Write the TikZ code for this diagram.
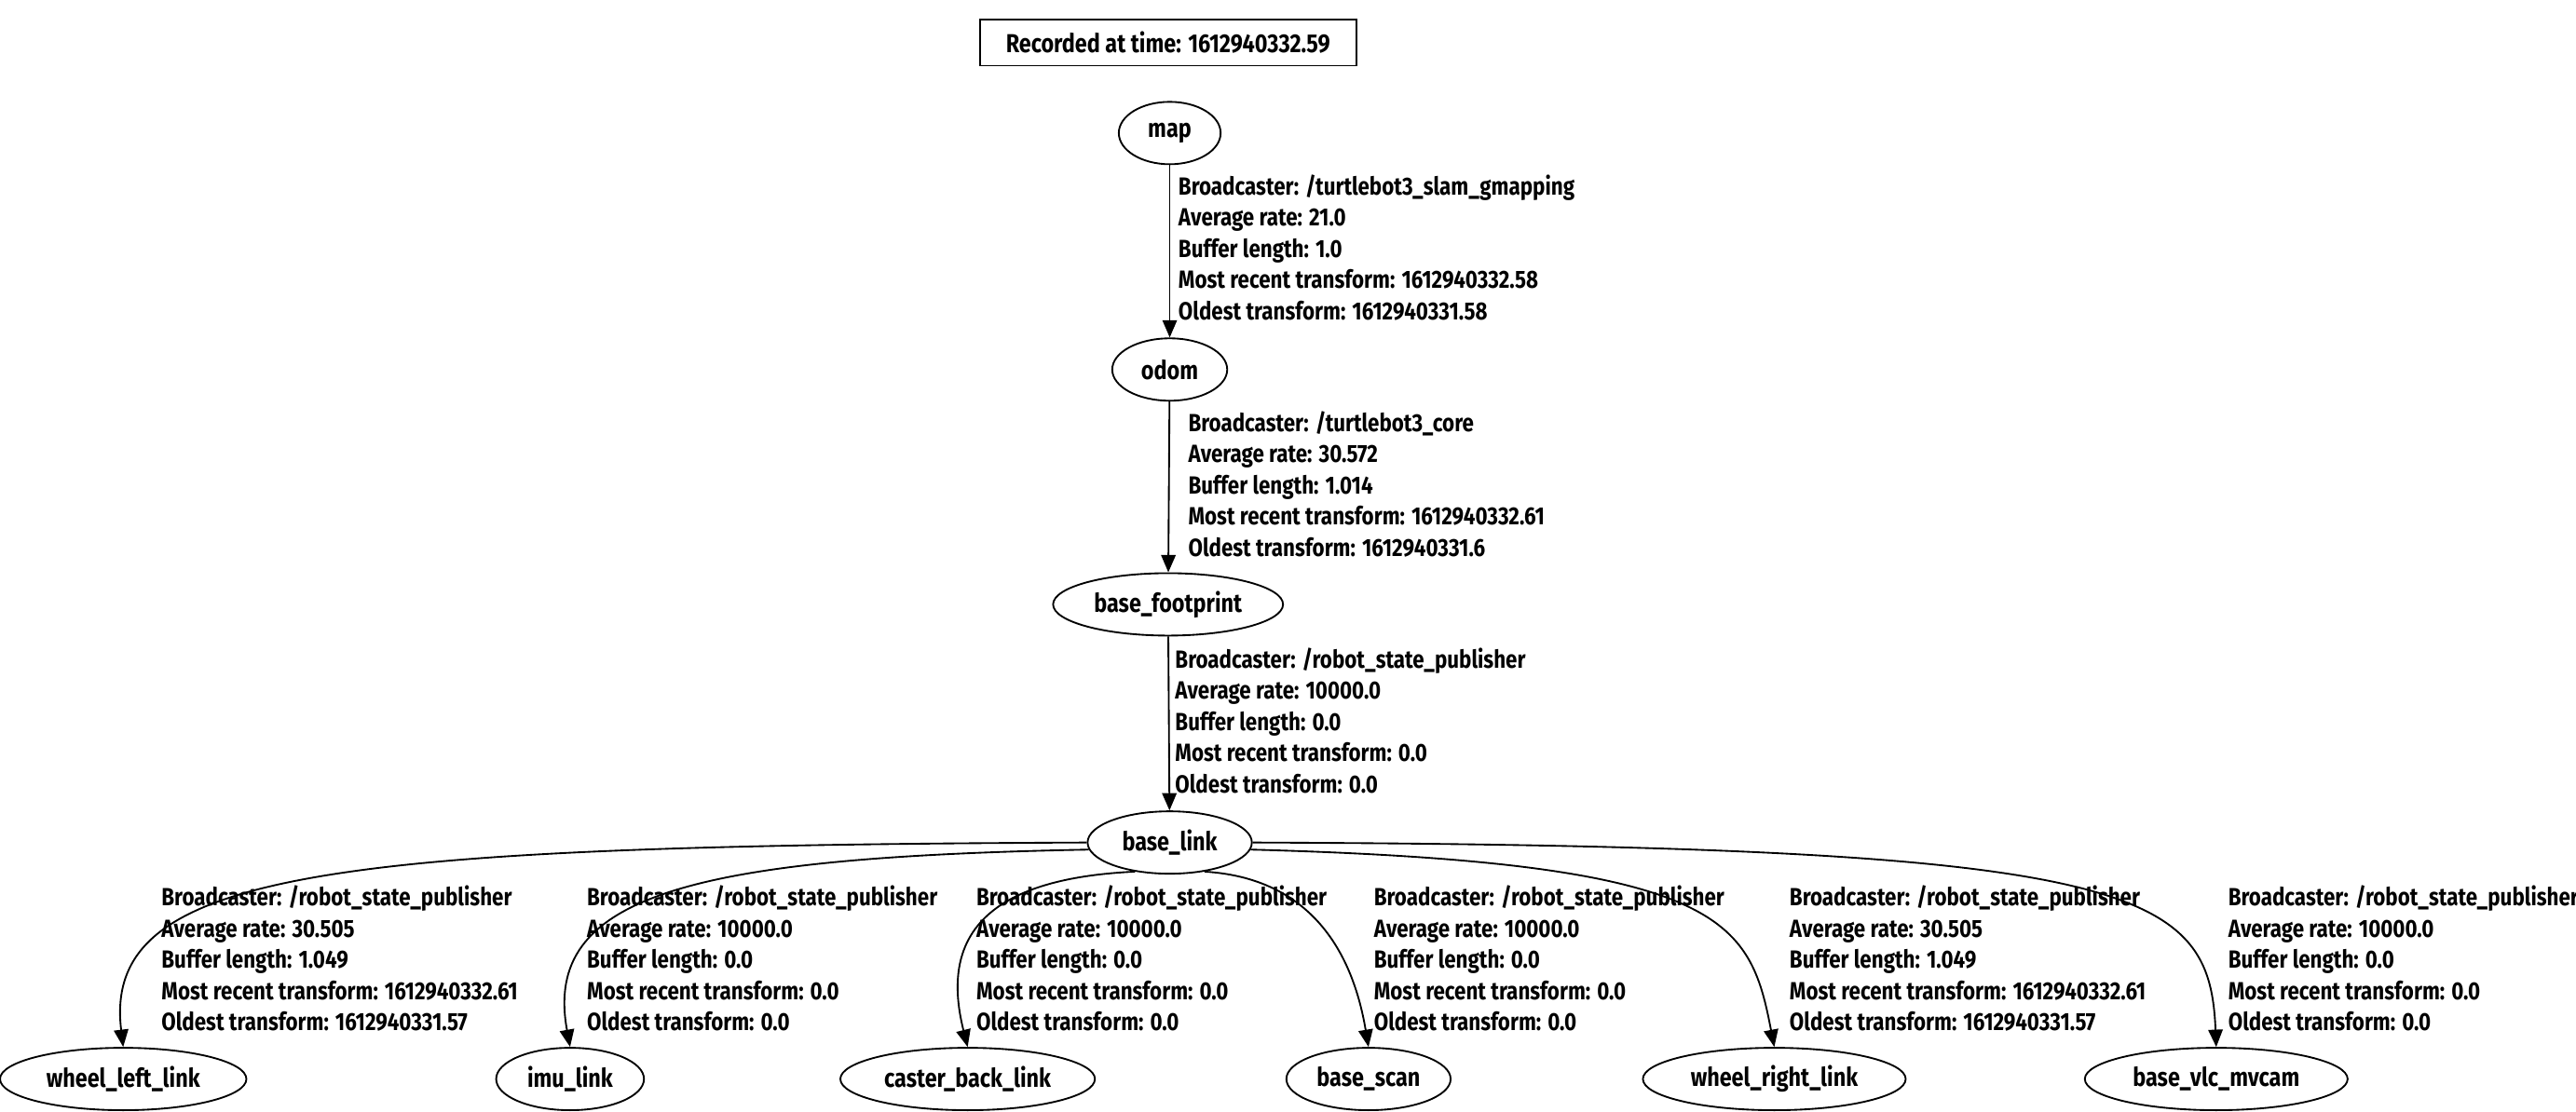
\documentclass[tikz,border=0pt]{standalone}
\usepackage{fontspec}
\setmainfont{Fira Sans}[FakeStretch=0.84]
\usetikzlibrary{positioning,shapes,arrows.meta,calc}
\begin{document}
\begin{tikzpicture}
  [
    x=0.02cm, y=-0.02cm,
    frame/.style={ellipse, draw, semithick, inner sep=0pt, minimum height=0.76cm, font=\fontsize{9}{10.8}\selectfont\bfseries},
    info/.style={draw=none, align=left, anchor=north west, inner sep=0pt, font=\fontsize{8.6}{10.8}\selectfont\bfseries},
    tf/.style={-{Triangle[length=6pt,width=5pt]}, semithick},
  ]
  \useasboundingbox (0,0) rectangle (1568,677);

  \node[draw, semithick, minimum width=4.58cm, minimum height=0.56cm, font=\fontsize{9}{10.8}\selectfont\bfseries] (stamp) at (711,26) {Recorded at time: 1612940332.59};

  \node[frame, minimum width=1.24cm] (map) at (712,81) {map};
  \node[frame, minimum width=1.4cm] (odom) at (712,225) {odom};
  \node[frame, minimum width=2.8cm] (footprint) at (711,368) {base\_footprint};
  \node[frame, minimum width=2cm] (baselink) at (712,513) {base\_link};

  \node[frame, minimum width=3cm] (wleft) at (75,657) {wheel\_left\_link};
  \node[frame, minimum width=1.8cm] (imu) at (347,657) {imu\_link};
  \node[frame, minimum width=3.1cm] (caster) at (589,657) {caster\_back\_link};
  \node[frame, minimum width=2cm] (scan) at (833,657) {base\_scan};
  \node[frame, minimum width=3.2cm] (wright) at (1080,657) {wheel\_right\_link};
  \node[frame, minimum width=3.2cm] (mvcam) at (1349,657) {base\_vlc\_mvcam};

  % chain down the middle
  \draw[tf] (map) -- (odom);
  \draw[tf] (odom) -- (footprint);
  \draw[tf] (footprint) -- (baselink);

  \node[info] (lmap) at (717,106) {Broadcaster: /turtlebot3\_slam\_gmapping\\Average rate: 21.0\\Buffer length: 1.0\\Most recent transform: 1612940332.58\\Oldest transform: 1612940331.58};
  \node[info] (lodom) at (723,250) {Broadcaster: /turtlebot3\_core\\Average rate: 30.572\\Buffer length: 1.014\\Most recent transform: 1612940332.61\\Oldest transform: 1612940331.6};
  \node[info] (lfoot) at (715,394) {Broadcaster: /robot\_state\_publisher\\Average rate: 10000.0\\Buffer length: 0.0\\Most recent transform: 0.0\\Oldest transform: 0.0};

  % fan out from base_link
  \draw[tf] (baselink.west) .. controls (200,515) and (62,530) .. (wleft.north);
  \draw[tf] (baselink.185) .. controls (420,522) and (330,545) .. (imu.north);
  \draw[tf] (baselink.220) .. controls (600,535) and (572,570) .. (caster.north);
  \draw[tf] (baselink.320) .. controls (805,535) and (825,590) .. (scan.north);
  \draw[tf] (baselink.355) .. controls (1050,525) and (1065,560) .. (wright.north);
  \draw[tf] (baselink.east) .. controls (1300,515) and (1345,540) .. (mvcam.north);

  \node[info] (lleft) at (98,539) {Broadcaster: /robot\_state\_publisher\\Average rate: 30.505\\Buffer length: 1.049\\Most recent transform: 1612940332.61\\Oldest transform: 1612940331.57};
  \node[info] (limu) at (357,539) {Broadcaster: /robot\_state\_publisher\\Average rate: 10000.0\\Buffer length: 0.0\\Most recent transform: 0.0\\Oldest transform: 0.0};
  \node[info] (lcaster) at (594,539) {Broadcaster: /robot\_state\_publisher\\Average rate: 10000.0\\Buffer length: 0.0\\Most recent transform: 0.0\\Oldest transform: 0.0};
  \node[info] (lscan) at (836,539) {Broadcaster: /robot\_state\_publisher\\Average rate: 10000.0\\Buffer length: 0.0\\Most recent transform: 0.0\\Oldest transform: 0.0};
  \node[info] (lright) at (1089,539) {Broadcaster: /robot\_state\_publisher\\Average rate: 30.505\\Buffer length: 1.049\\Most recent transform: 1612940332.61\\Oldest transform: 1612940331.57};
  \node[info] (lcam) at (1356,539) {Broadcaster: /robot\_state\_publisher\\Average rate: 10000.0\\Buffer length: 0.0\\Most recent transform: 0.0\\Oldest transform: 0.0};
\end{tikzpicture}
\end{document}
